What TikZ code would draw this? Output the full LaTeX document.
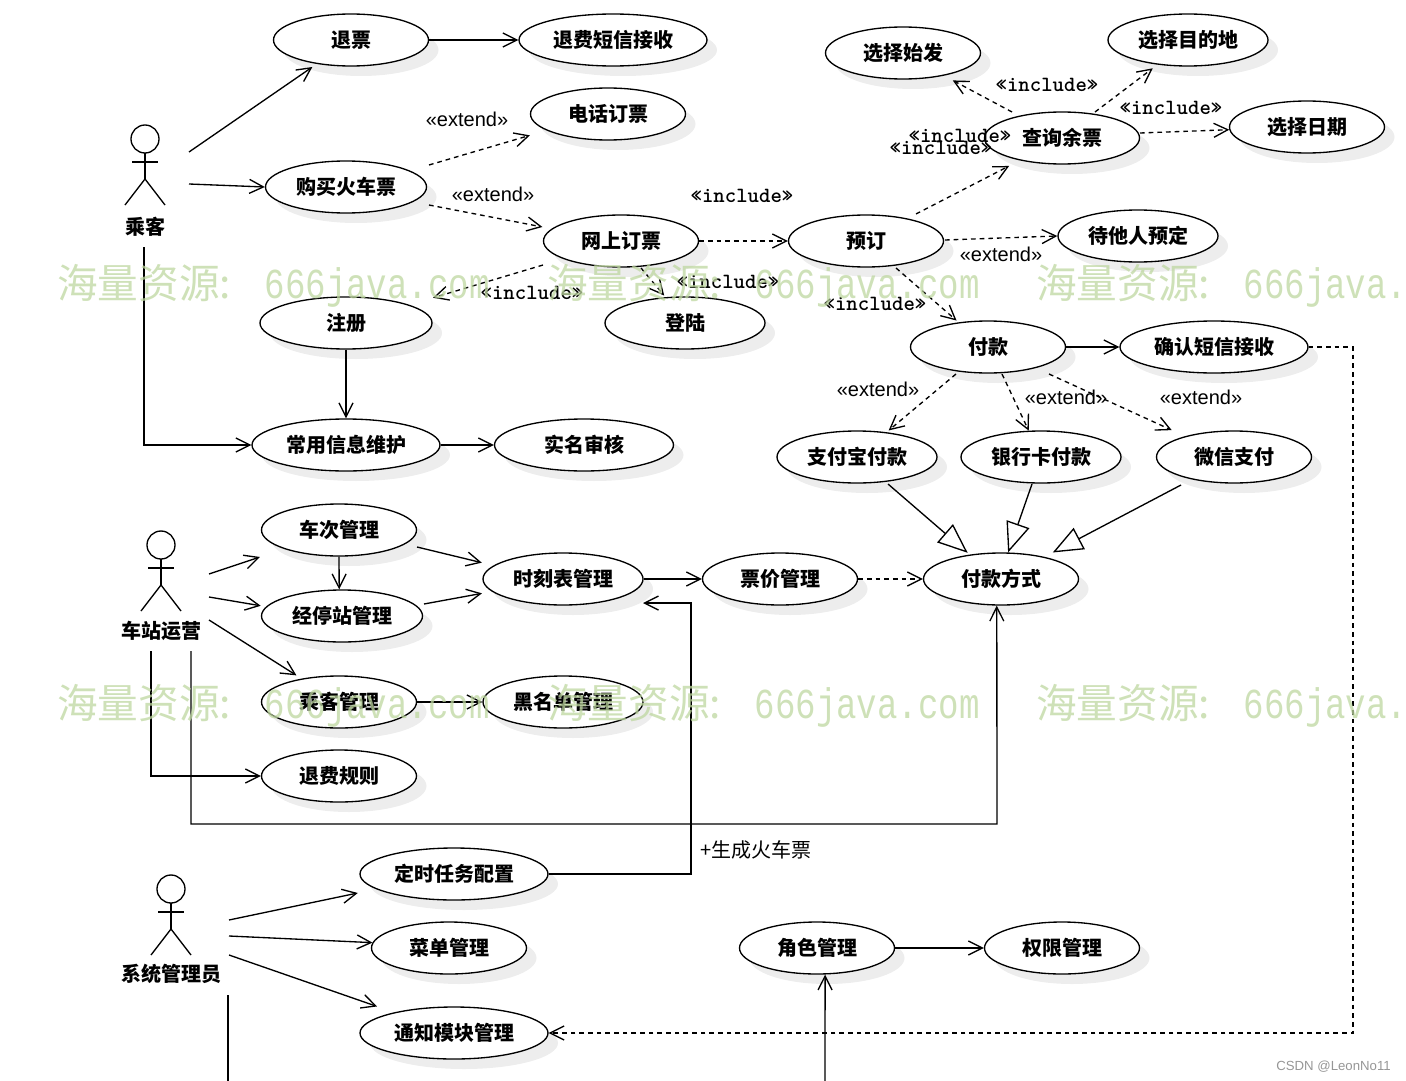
\documentclass[tikz,border=0pt]{standalone}
\usepackage{fontspec}
\setmainfont{Noto Sans CJK SC}
\newfontfamily\latinsans{Liberation Sans}
\newfontfamily\markfont[FakeStretch=0.8]{Liberation Mono}
\usepackage{tikz}
\usetikzlibrary{arrows.meta,shapes.geometric,shadows}

\tikzset{
  usecase/.style={ellipse,draw,line width=1pt,fill=white,inner sep=0pt,minimum height=39pt,minimum width=#1*0.75pt,
    font=\fontsize{15}{15}\selectfont\bfseries,drop shadow={shadow xshift=7.5pt,shadow yshift=-7.5pt,opacity=1,fill=black!7}},
  usecase/.default=155,
  actorname/.style={font=\fontsize{15}{15}\selectfont\bfseries,inner sep=0pt},
  link/.style={line width=1pt,-{Straight Barb[length=10.5pt,width=10.5pt]}},
  plainlink/.style={line width=1pt},
  deplink/.style={link,dash pattern=on 3.5pt off 3pt},
  genlink/.style={line width=1pt,-{Triangle[open,fill=white,length=22.5pt,width=18pt]}},
  extendtag/.style={font=\latinsans\fontsize{15}{15}\selectfont,inner sep=0pt},
  includetag/.style={font=\ttfamily\bfseries\fontsize{16.3}{16}\selectfont,inner sep=0pt},
  stick/.pic={
    \draw [line width=1pt] (0,0) circle (14);
    \draw [line width=1pt] (0,-14) -- (0,-40) ;
    \draw [line width=1pt] (-13,-23) -- (13,-23) ;
    \draw [line width=1pt] (-20,-66) -- (0,-40) -- (20,-66) ;
  }
}

\begin{document}
\begin{tikzpicture}[x=0.75pt,y=0.75pt,yscale=-1,xscale=1]
\useasboundingbox (0,0) rectangle (1406,1081);
\clip (0,0) rectangle (1406,1081);

%Actors
\pic at (145,139) {stick};
\node [actorname] (passenger) at (145,227) {乘客};
\pic at (161,545) {stick};
\node [actorname] (operator) at (161,631) {车站运营};
\pic at (171,889) {stick};
\node [actorname] (admin) at (171,974) {系统管理员};

%Use cases, ticket side
\node [usecase] (refund) at (351,40) {退票};
\node [usecase=188] (refundsms) at (613,40) {退费短信接收};
\node [usecase] (phone) at (608,114) {电话订票};
\node [usecase=161] (buy) at (346,187) {购买火车票};
\node [usecase] (online) at (621,241) {网上订票};
\node [usecase] (booking) at (866,241) {预订};
\node [usecase] (fromcity) at (903,53) {选择始发};
\node [usecase=160] (tocity) at (1188,40) {选择目的地};
\node [usecase] (query) at (1062,138) {查询余票};
\node [usecase] (date) at (1307,127) {选择日期};
\node [usecase=160] (forother) at (1138,236) {待他人预定};
\node [usecase=172] (register) at (346,323) {注册};
\node [usecase=160] (login) at (685,323) {登陆};
\node [usecase] (pay) at (988,347) {付款};
\node [usecase=188] (paysms) at (1214,347) {确认短信接收};
\node [usecase=188] (profile) at (346,445) {常用信息维护};
\node [usecase=179] (realname) at (584,445) {实名审核};
\node [usecase=160] (alipay) at (857,457) {支付宝付款};
\node [usecase=160] (bank) at (1041,457) {银行卡付款};
\node [usecase] (wechat) at (1234,457) {微信支付};

%Use cases, station side
\node [usecase] (train) at (339,530) {车次管理};
\node [usecase=161] (stops) at (342,616) {经停站管理};
\node [usecase=160] (timetable) at (563,579) {时刻表管理};
\node [usecase] (fare) at (780,579) {票价管理};
\node [usecase] (paytype) at (1001,579) {付款方式};
\node [usecase] (riders) at (339,702) {乘客管理};
\node [usecase=160] (blacklist) at (563,702) {黑名单管理};
\node [usecase] (rules) at (339,776) {退费规则};

%Use cases, admin side
\node [usecase=188] (cron) at (454,874) {定时任务配置};
\node [usecase] (menu) at (449,948) {菜单管理};
\node [usecase] (role) at (817,948) {角色管理};
\node [usecase] (rights) at (1062,948) {权限管理};
\node [usecase=188] (notice) at (454,1033) {通知模块管理};

%Free line ends
\coordinate (pA) at (189,152);
\coordinate (pB) at (189,184);
\coordinate (pC) at (144,247);
\coordinate (oA) at (209,574);
\coordinate (oB) at (209,597);
\coordinate (oC) at (209,620);
\coordinate (oD) at (151,651);
\coordinate (oE) at (191,651);
\coordinate (oEturn) at (191,824);
\coordinate (payturn) at (997,824);
\coordinate (aA) at (229,920);
\coordinate (aB) at (229,936);
\coordinate (aC) at (229,955);
\coordinate (aD) at (228,995);
\coordinate (aDend) at (228,1090);
\coordinate (rolefrom) at (825,1090);
\coordinate (buyup) at (429,165);
\coordinate (buydown) at (429,205);
\coordinate (onlinedown) at (543,265);
\coordinate (onlinelogin) at (641,268);
\coordinate (bookup) at (916,214);
\coordinate (bookright) at (945,240);
\coordinate (bookdown) at (896,268);
\coordinate (queryleft) at (1012,112);
\coordinate (queryup) at (1095,112);
\coordinate (queryright) at (1140,133);
\coordinate (payleft) at (956,374);
\coordinate (paymid) at (1002,374);
\coordinate (payright) at (1049,374);
\coordinate (alipayout) at (888,484);
\coordinate (bankout) at (1032,484);
\coordinate (wechatout) at (1181,485);
\coordinate (trainout) at (417,547);
\coordinate (stopsout) at (424,604);
\coordinate (cronturn) at (691,603);
\coordinate (timeback) at (643,603);
\coordinate (smsturn) at (1353,347);

%Passenger lines
\draw [link,shorten >=4pt]   (pA) -- (refund.215) ;
\draw [link]   (pB) -- (buy.west) ;
\draw [link]   (pC) |- (profile.west) ;
\draw [link]   (refund) -- (refundsms) ;
\draw [link]   (register) -- (profile) ;
\draw [link]   (profile) -- (realname) ;

%Booking lines
\draw [deplink,shorten >=13pt]   (buyup) -- (phone.195) ;
\draw [deplink,shorten >=7pt]   (buydown) -- (online.170) ;
\draw [deplink]   (online) -- (booking) ;
\draw [deplink,shorten >=18.5pt]   (onlinedown) -- (register.16) ;
\draw [deplink,shorten >=1.5pt]   (onlinelogin) -- (login.127) ;
\draw [deplink,shorten >=9pt]   (bookup) -- (query.208) ;
\draw [deplink]   (bookright) -- (forother.west) ;
\draw [deplink,shorten >=2pt]   (bookdown) -- (pay.140) ;
\draw [deplink,shorten >=7.5pt]   (queryleft) -- (fromcity.331) ;
\draw [deplink,shorten >=4.5pt]   (queryup) -- (tocity.219) ;
\draw [deplink]   (queryright) -- (date.182) ;

%Payment lines
\draw [link]   (pay) -- (paysms) ;
\draw [deplink,shorten >=2pt]   (payleft) -- (alipay.40) ;
\draw [deplink]   (paymid) -- (bank.115) ;
\draw [deplink,shorten >=11pt]   (payright) -- (wechat.157) ;
\draw [genlink,shorten >=2pt]   (alipayout) -- (paytype.142) ;
\draw [genlink]   (bankout) -- (paytype.75) ;
\draw [genlink,shorten >=7pt]   (wechatout) -- (paytype.27) ;
\draw [deplink]   (paysms.east) -- (smsturn) |- (notice.east) ;

%Station lines
\draw [link,shorten >=19pt]   (oA) -- (train.199) ;
\draw [link,shorten >=4pt]   (oB) -- (stops.173) ;
\draw [link,shorten >=4.5pt]   (oC) -- (riders.148) ;
\draw [link]   (oD) |- (rules.west) ;
\draw [link]   (oE) -- (oEturn) -- (payturn) -- (paytype.261) ;
\draw [link]   (train.south) -- (stops.96) ;
\draw [link,shorten >=9pt]   (trainout) -- (timetable.169) ;
\draw [link,shorten >=7.5pt]   (stopsout) -- (timetable.190) ;
\draw [link]   (timetable) -- (fare) ;
\draw [deplink]   (fare) -- (paytype) ;
\draw [link]   (riders) -- (blacklist) ;

%Admin lines
\draw [link]   (cron.east) -| (cronturn) -- (timeback) ;
\draw [link,shorten >=14pt]   (aA) -- (cron.191) ;
\draw [link]   (aB) -- (menu.176) ;
\draw [link,shorten >=13.5pt]   (aC) -- (notice.161) ;
\draw [plainlink]   (aD) -- (aDend) ;
\draw [link]   (rolefrom) -- (role.287) ;
\draw [link]   (role) -- (rights) ;

%Stereotypes
\node [extendtag] (extA) at (467,119) {«extend»};
\node [extendtag] (extB) at (493,194) {«extend»};
\node [extendtag] (extC) at (1001,254) {«extend»};
\node [extendtag] (extD) at (878,389) {«extend»};
\node [extendtag] (extE) at (1066,397) {«extend»};
\node [extendtag] (extF) at (1201,397) {«extend»};
\node [includetag] (incA) at (1047,85) {«include»};
\node [includetag] (incB) at (1171,108) {«include»};
\node [includetag] (incC) at (742,196) {«include»};
\node [includetag] (incD) at (960,136) {«include»};
\node [includetag] (incE) at (941,148) {«include»};
\node [includetag] (incF) at (532,293) {«include»};
\node [includetag] (incG) at (728,282) {«include»};
\node [includetag] (incH) at (875,304) {«include»};
\node [font=\fontsize{15}{15}\selectfont,inner sep=0pt,anchor=west] (maketicket) at (700,850) {+生成火车票};

%Watermark
\foreach \wx in {-433,57,547,1036} {
  \foreach \wy in {286,706} {
    \node [anchor=west,inner sep=0pt,opacity=0.75,text={rgb, 255:red, 190; green, 215; blue, 160 },font=\fontsize{30.5}{31}\selectfont] at (\wx,\wy) {海量资源:\hspace{25pt}{\markfont\fontsize{32}{31}\selectfont 666java.com}};
  }
}
\node [anchor=east,inner sep=0pt,text={rgb, 255:red, 150; green, 150; blue, 150 },font=\latinsans\fontsize{9.9}{10}\selectfont] (credit) at (1391,1067) {CSDN @LeonNo11};

\end{tikzpicture}
\end{document}
